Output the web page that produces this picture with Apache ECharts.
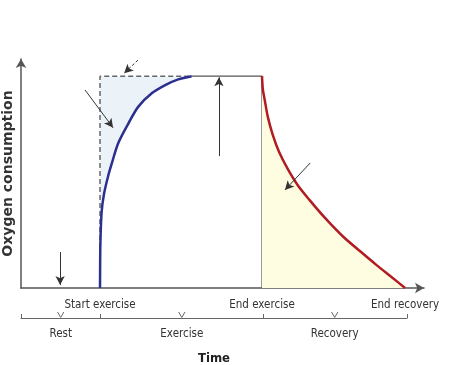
<!DOCTYPE html>
<html><head><meta charset="utf-8">
<script src="https://cdn.jsdelivr.net/npm/echarts@6/dist/echarts.min.js"></script>
<style>html,body{margin:0;padding:0;background:#fff}#c{width:474px;height:365px}</style>
</head><body><div id="c"></div>
<script>
// Time positions (arbitrary units)
var tStart = 2.0, tEndEx = 6.1, tEndRec = 9.72, tMax = 10.2;
var plateau = 9.25;
// Exercise (O2 on-kinetics) curve
var exerciseT = [2.0, 2.003, 2.01, 2.04, 2.1, 2.2, 2.3, 2.46, 2.72, 2.97, 3.31, 3.65, 3.98, 4.32];
var exerciseY = [0, 1.0, 2.0, 3.3, 4.1, 4.85, 5.45, 6.32, 7.19, 7.92, 8.5, 8.86, 9.11, 9.25];
// Recovery (EPOC) curve
var recoveryT = [6.1, 6.12, 6.17, 6.25, 6.37, 6.53, 6.75, 7.0, 7.3, 7.7, 8.15, 8.6, 9.0, 9.4, 9.72];
var recoveryY = [9.25, 8.7, 8.2, 7.45, 6.7, 5.95, 5.2, 4.5, 3.85, 3.05, 2.25, 1.58, 1.0, 0.45, 0];
// Tick labels
var timeTicks = [tStart, tEndEx, tEndRec];
var timeTickLabels = ['Start exercise', 'End exercise', 'End recovery'];
var phaseCenters = [1.0, 4.05, 7.9];
var phaseLabels = ['Rest', 'Exercise', 'Recovery'];
var phaseBounds = [0, tStart, tEndEx, tEndRec];
// Annotation arrows [from, to] in data units
var arrows = [
  [[1.62, 8.65], [2.33, 7.0]],
  [[5.01, 5.76], [5.01, 9.2]],
  [[0.99, 1.57], [0.99, 0.13]],
  [[7.32, 5.46], [6.68, 4.28]]
];
var dashedArrow = [[2.96, 9.95], [2.61, 9.38]];

function zip(a, b) { return a.map(function (v, i) { return [v, b[i]]; }); }
var exData = zip(exerciseT, exerciseY);
var recData = zip(recoveryT, recoveryY);

var narrow = "'Liberation Sans Narrow','DejaVu Sans Condensed','Roboto Condensed',sans-serif";

var notchData = [];
phaseCenters.forEach(function (c) {
  notchData.push([c - 0.08, 1], [c, 0.1], [c + 0.08, 1], null);
});

var chart = echarts.init(document.getElementById('c'), null, {renderer: 'canvas'});
chart.setOption({
  animation: false,
  grid: [
    {left: 21, top: 59, width: 403, height: 229, containLabel: false, outerBoundsMode: 'none'},
    {left: 21, top: 312, width: 386, height: 6, containLabel: false, outerBoundsMode: 'none'}
  ],
  xAxis: [
    {
      type: 'value', gridIndex: 0, min: 0, max: tMax,
      splitLine: {show: false},
      axisLine: {show: true, lineStyle: {color: '#555', width: 1.5}, symbol: ['none', 'arrow'], symbolSize: [8, 9]},
      axisTick: {show: false},
      axisLabel: {
        customValues: timeTicks, color: '#333', fontFamily: narrow, fontSize: 11.5, margin: 11,
        formatter: function (v) { var i = timeTicks.indexOf(v); return i >= 0 ? timeTickLabels[i] : ''; }
      }
    },
    {
      type: 'value', gridIndex: 1, min: 0, max: tEndRec,
      splitLine: {show: false},
      axisLine: {show: true, lineStyle: {color: '#666', width: 1}},
      axisTick: {show: true, inside: true, length: 4, customValues: phaseBounds, lineStyle: {color: '#666'}},
      axisLabel: {
        customValues: phaseCenters, color: '#333', fontFamily: narrow, fontSize: 11.5, margin: 10,
        formatter: function (v) { var i = phaseCenters.indexOf(v); return i >= 0 ? phaseLabels[i] : ''; }
      },
      name: 'Time', nameLocation: 'middle', nameGap: 34,
      nameTextStyle: {fontFamily: narrow, fontWeight: 'bold', fontSize: 13, color: '#222'}
    }
  ],
  yAxis: [
    {
      type: 'value', gridIndex: 0, min: 0, max: 10,
      splitLine: {show: false},
      axisLine: {show: true, lineStyle: {color: '#555', width: 1.5}, symbol: ['none', 'arrow'], symbolSize: [8, 9]},
      axisTick: {show: false}, axisLabel: {show: false},
      name: 'Oxygen consumption', nameLocation: 'middle', nameGap: 6, nameRotate: 90,
      nameTextStyle: {fontFamily: "'DejaVu Sans',sans-serif", fontWeight: 'bold', fontSize: 14, color: '#333'}
    },
    {
      type: 'value', gridIndex: 1, min: 0, max: 1, show: false
    }
  ],
  series: [
    {
      type: 'custom', xAxisIndex: 0, yAxisIndex: 0, data: [0], z: 1, silent: true,
      renderItem: function (params, api) {
        var pts = [api.coord([tStart, plateau])];
        for (var i = exData.length - 1; i >= 0; i--) pts.push(api.coord(exData[i]));
        return {type: 'polygon', shape: {points: pts}, style: {fill: '#ecf3f8', stroke: null}};
      }
    },
    {
      type: 'line', name: 'recovery', data: recData, smooth: 0.3, showSymbol: false, z: 3,
      lineStyle: {color: '#b01c22', width: 2.5},
      areaStyle: {color: '#fefde2', opacity: 1, origin: 'start'}
    },
    {
      type: 'line', name: 'exercise', data: exData, smooth: 0.3, showSymbol: false, z: 3,
      lineStyle: {color: '#2b2f8f', width: 2.5}
    },
    {
      type: 'line', name: 'dashed', data: [[tStart, 0], [tStart, plateau], [4.32, plateau]], showSymbol: false, z: 2,
      lineStyle: {color: '#666', width: 1.5, type: [5, 3]}
    },
    {
      type: 'line', name: 'steady', data: [[4.32, plateau], [tEndEx, plateau], [tEndEx, 0]], showSymbol: false, z: 2,
      lineStyle: {color: '#555', width: 1.2}
    },
    {
      type: 'line', name: 'arrows', data: [], showSymbol: false, z: 4,
      markLine: {
        silent: true, symbol: ['none', 'arrow'], symbolSize: [7, 9],
        label: {show: false},
        lineStyle: {color: '#333', width: 1, type: 'solid'},
        data: arrows.map(function (a) { return [{coord: a[0]}, {coord: a[1]}]; }).concat([
          [{coord: dashedArrow[0], lineStyle: {type: [3, 2]}}, {coord: dashedArrow[1]}]
        ])
      }
    },
    {
      type: 'line', name: 'notches', xAxisIndex: 1, yAxisIndex: 1, data: notchData,
      showSymbol: false, clip: false, connectNulls: false,
      lineStyle: {color: '#666', width: 1}
    }
  ]
});
</script>
</body></html>
